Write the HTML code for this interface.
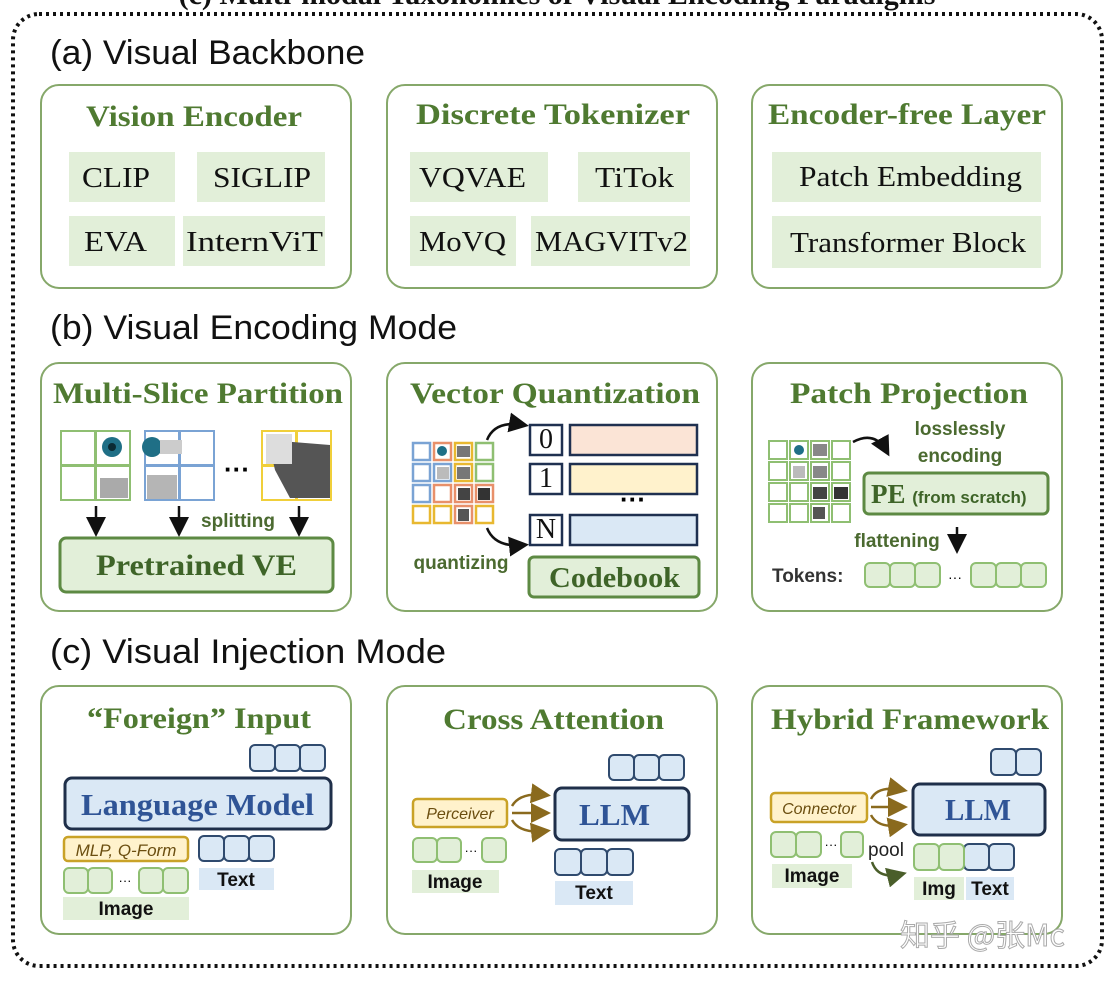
<!DOCTYPE html>
<html><head><meta charset="utf-8"><style>
html,body{margin:0;padding:0;background:#fff;}
svg{display:block;}
.h{font-family:"Liberation Sans",sans-serif;font-size:34px;fill:#111;}
.t{font-family:"Liberation Serif",serif;font-weight:bold;font-size:30px;fill:#4f7a31;}
.c{font-family:"Liberation Serif",serif;font-size:28px;fill:#111;}
.s{font-family:"Liberation Sans",sans-serif;font-size:19px;}
</style></head><body>
<svg width="1114" height="982" viewBox="0 0 1114 982" xmlns="http://www.w3.org/2000/svg">
<defs>
<marker id="ab" markerWidth="8" markerHeight="8" refX="6" refY="4" orient="auto"><path d="M0,0 L8,4 L0,8 z" fill="#111"/></marker>
<marker id="ao" markerWidth="8" markerHeight="8" refX="6" refY="4" orient="auto"><path d="M0,0 L8,4 L0,8 z" fill="#8a6a1e"/></marker>
<marker id="ag" markerWidth="8" markerHeight="8" refX="6" refY="4" orient="auto"><path d="M0,0 L8,4 L0,8 z" fill="#4a5e2a"/></marker>
</defs>
<text x="557" y="4" text-anchor="middle" font-family="Liberation Serif" font-weight="bold" font-size="30" fill="#111">(c) Multi-modal Taxonomies of Visual Encoding Paradigms</text>
<rect x="13" y="14" width="1089" height="952" rx="26" fill="none" stroke="#111" stroke-width="4" stroke-dasharray="3 4"/>

<text class="h" x="50" y="64" textLength="315" lengthAdjust="spacingAndGlyphs">(a) Visual Backbone</text>
<text class="h" x="50" y="339" textLength="407" lengthAdjust="spacingAndGlyphs">(b) Visual Encoding Mode</text>
<text class="h" x="50" y="663" textLength="396" lengthAdjust="spacingAndGlyphs">(c) Visual Injection Mode</text>

<g fill="none" stroke="#86a86a" stroke-width="2">
<rect x="41" y="85" width="310" height="203" rx="18"/><rect x="387" y="85" width="330" height="203" rx="18"/><rect x="752" y="85" width="310" height="203" rx="18"/>
<rect x="41" y="363" width="310" height="248" rx="18"/><rect x="387" y="363" width="330" height="248" rx="18"/><rect x="752" y="363" width="310" height="248" rx="18"/>
<rect x="41" y="686" width="310" height="248" rx="18"/><rect x="387" y="686" width="330" height="248" rx="18"/><rect x="752" y="686" width="310" height="248" rx="18"/>
</g>

<g class="t" lengthAdjust="spacingAndGlyphs">
<text x="86" y="126" textLength="216" lengthAdjust="spacingAndGlyphs">Vision Encoder</text>
<text x="416" y="124" textLength="274" lengthAdjust="spacingAndGlyphs">Discrete Tokenizer</text>
<text x="768" y="124" textLength="278" lengthAdjust="spacingAndGlyphs">Encoder-free Layer</text>
<text x="53" y="403" textLength="290" lengthAdjust="spacingAndGlyphs">Multi-Slice Partition</text>
<text x="410" y="403" textLength="290" lengthAdjust="spacingAndGlyphs">Vector Quantization</text>
<text x="790" y="403" textLength="238" lengthAdjust="spacingAndGlyphs">Patch Projection</text>
<text x="87" y="728" textLength="224" lengthAdjust="spacingAndGlyphs">“Foreign” Input</text>
<text x="443" y="729" textLength="221" lengthAdjust="spacingAndGlyphs">Cross Attention</text>
<text x="771" y="729" textLength="278" lengthAdjust="spacingAndGlyphs">Hybrid Framework</text>
</g>

<g fill="#e2efd9">
<rect x="69" y="152" width="106" height="50"/><rect x="197" y="152" width="128" height="50"/>
<rect x="69" y="216" width="106" height="50"/><rect x="183" y="216" width="142" height="50"/>
<rect x="410" y="152" width="138" height="50"/><rect x="578" y="152" width="112" height="50"/>
<rect x="410" y="216" width="106" height="50"/><rect x="531" y="216" width="159" height="50"/>
<rect x="772" y="152" width="269" height="50"/><rect x="772" y="216" width="269" height="52"/>
</g>
<g class="c">
<text x="82" y="187" textLength="68" lengthAdjust="spacingAndGlyphs">CLIP</text>
<text x="213" y="187" textLength="98" lengthAdjust="spacingAndGlyphs">SIGLIP</text>
<text x="84" y="251" textLength="63" lengthAdjust="spacingAndGlyphs">EVA</text>
<text x="186" y="251" textLength="137" lengthAdjust="spacingAndGlyphs">InternViT</text>
<text x="419" y="187" textLength="107" lengthAdjust="spacingAndGlyphs">VQVAE</text>
<text x="595" y="187" textLength="79" lengthAdjust="spacingAndGlyphs">TiTok</text>
<text x="419" y="251" textLength="87" lengthAdjust="spacingAndGlyphs">MoVQ</text>
<text x="535" y="251" textLength="153" lengthAdjust="spacingAndGlyphs">MAGVITv2</text>
<text x="799" y="186" textLength="223" lengthAdjust="spacingAndGlyphs">Patch Embedding</text>
<text x="790" y="252" textLength="236" lengthAdjust="spacingAndGlyphs">Transformer Block</text>
</g>

<!-- (b) panel 1 -->
<g fill="#fff" stroke-width="2">
<g stroke="#8fbf72"><rect x="61" y="431" width="34" height="34"/><rect x="96" y="431" width="34" height="34"/><rect x="61" y="466" width="34" height="34"/><rect x="96" y="466" width="34" height="34"/></g>
<g stroke="#7aa3d4"><rect x="145" y="431" width="34" height="34"/><rect x="180" y="431" width="34" height="34"/><rect x="145" y="466" width="34" height="34"/><rect x="180" y="466" width="34" height="34"/></g>
<g stroke="#f0cf3a"><rect x="262" y="431" width="34" height="34"/><rect x="297" y="431" width="34" height="34"/><rect x="262" y="466" width="34" height="34"/><rect x="297" y="466" width="34" height="34"/></g>
</g>
<circle cx="112" cy="447" r="10" fill="#1f6f86"/><circle cx="112" cy="447" r="4" fill="#0b2a33"/>
<circle cx="152" cy="447" r="10" fill="#1f6f86"/><rect x="160" y="440" width="22" height="14" fill="#ccc"/>
<rect x="100" y="478" width="28" height="20" fill="#aaa"/><rect x="147" y="475" width="30" height="24" fill="#b5b5b5"/>
<path d="M268 440 L330 445 L330 498 L290 498 L275 470 Z" fill="#555"/><rect x="266" y="434" width="26" height="30" fill="#ddd"/>
<text x="237" y="478" text-anchor="middle" font-size="26" font-weight="bold" font-family="Liberation Sans">···</text>
<g stroke="#111" stroke-width="2.5" marker-end="url(#ab)"><line x1="96" y1="506" x2="96" y2="532"/><line x1="179" y1="506" x2="179" y2="532"/><line x1="299" y1="506" x2="299" y2="532"/></g>
<text class="s" x="238" y="527" text-anchor="middle" fill="#4b6a30" font-weight="bold">splitting</text>
<rect x="60" y="538" width="273" height="54" rx="6" fill="#e2efd9" stroke="#5d8a43" stroke-width="3"/>
<text x="96" y="575" textLength="201" lengthAdjust="spacingAndGlyphs" font-family="Liberation Serif" font-weight="bold" font-size="30" fill="#3e6428">Pretrained VE</text>

<!-- (b) panel 2 -->
<g fill="#fff" stroke-width="2.5">
<rect x="413" y="443" width="17" height="17" stroke="#7aa3d4"/><rect x="434" y="443" width="17" height="17" stroke="#e8906a"/><rect x="455" y="443" width="17" height="17" stroke="#e8b830"/><rect x="476" y="443" width="17" height="17" stroke="#8fbf72"/>
<rect x="413" y="464" width="17" height="17" stroke="#7aa3d4"/><rect x="434" y="464" width="17" height="17" stroke="#7aa3d4"/><rect x="455" y="464" width="17" height="17" stroke="#e8b830"/><rect x="476" y="464" width="17" height="17" stroke="#8fbf72"/>
<rect x="413" y="485" width="17" height="17" stroke="#7aa3d4"/><rect x="434" y="485" width="17" height="17" stroke="#e8906a"/><rect x="455" y="485" width="17" height="17" stroke="#e8906a"/><rect x="476" y="485" width="17" height="17" stroke="#e8906a"/>
<rect x="413" y="506" width="17" height="17" stroke="#e8b830"/><rect x="434" y="506" width="17" height="17" stroke="#e8b830"/><rect x="455" y="506" width="17" height="17" stroke="#e8906a"/><rect x="476" y="506" width="17" height="17" stroke="#e8b830"/>
</g>
<g fill="#777"><circle cx="442" cy="451" r="5" fill="#1f6f86"/><rect x="457" y="446" width="13" height="11"/><rect x="437" y="467" width="12" height="12" fill="#bbb"/><rect x="457" y="467" width="13" height="12"/><rect x="458" y="488" width="12" height="12" fill="#444"/><rect x="478" y="488" width="12" height="12" fill="#333"/><rect x="458" y="509" width="11" height="12" fill="#555"/></g>
<path d="M487 440 Q495 420 524 425" fill="none" stroke="#111" stroke-width="2.5" marker-end="url(#ab)"/>
<path d="M487 528 Q495 548 524 545" fill="none" stroke="#111" stroke-width="2.5" marker-end="url(#ab)"/>
<g stroke="#1f3050" stroke-width="2.5">
<rect x="530" y="425" width="32" height="30" fill="#fff"/><rect x="570" y="425" width="127" height="30" fill="#fbe4d6"/>
<rect x="530" y="464" width="32" height="30" fill="#fff"/><rect x="570" y="464" width="127" height="30" fill="#fff2cc"/>
<rect x="530" y="515" width="32" height="30" fill="#fff"/><rect x="570" y="515" width="127" height="30" fill="#dae8f5"/>
</g>
<g class="c" text-anchor="middle" font-size="24"><text x="546" y="448">0</text><text x="546" y="487">1</text><text x="546" y="538">N</text></g>
<text x="633" y="508" text-anchor="middle" font-size="26" font-weight="bold" font-family="Liberation Sans">···</text>
<text class="s" x="461" y="569" text-anchor="middle" fill="#4b6a30" font-weight="bold">quantizing</text>
<rect x="529" y="557" width="170" height="40" rx="5" fill="#e2efd9" stroke="#5d8a43" stroke-width="3"/>
<text x="549" y="587" textLength="131" lengthAdjust="spacingAndGlyphs" font-family="Liberation Serif" font-weight="bold" font-size="28" fill="#3e6428">Codebook</text>

<!-- (b) panel 3 -->
<g fill="#fff" stroke="#8fbf72" stroke-width="2">
<rect x="769" y="441" width="18" height="18"/><rect x="790" y="441" width="18" height="18"/><rect x="811" y="441" width="18" height="18"/><rect x="832" y="441" width="18" height="18"/>
<rect x="769" y="462" width="18" height="18"/><rect x="790" y="462" width="18" height="18"/><rect x="811" y="462" width="18" height="18"/><rect x="832" y="462" width="18" height="18"/>
<rect x="769" y="483" width="18" height="18"/><rect x="790" y="483" width="18" height="18"/><rect x="811" y="483" width="18" height="18"/><rect x="832" y="483" width="18" height="18"/>
<rect x="769" y="504" width="18" height="18"/><rect x="790" y="504" width="18" height="18"/><rect x="811" y="504" width="18" height="18"/><rect x="832" y="504" width="18" height="18"/>
</g>
<g fill="#888"><circle cx="799" cy="450" r="5" fill="#1f6f86"/><rect x="813" y="444" width="14" height="12"/><rect x="793" y="466" width="12" height="12" fill="#bbb"/><rect x="813" y="466" width="14" height="12"/><rect x="813" y="487" width="14" height="12" fill="#444"/><rect x="834" y="487" width="14" height="12" fill="#333"/><rect x="813" y="507" width="12" height="12" fill="#555"/></g>
<path d="M853 442 Q875 430 887 452" fill="none" stroke="#111" stroke-width="2.5" marker-end="url(#ab)"/>
<g class="s" fill="#4b6a30" font-weight="bold" text-anchor="middle"><text x="960" y="435">losslessly</text><text x="960" y="462">encoding</text></g>
<rect x="864" y="473" width="184" height="41" rx="5" fill="#e2efd9" stroke="#5d8a43" stroke-width="3"/>
<text x="871" y="503" font-family="Liberation Serif" font-weight="bold" font-size="27" fill="#3e6428">PE <tspan font-family="Liberation Sans" font-size="17" font-weight="bold">(from scratch)</tspan></text>
<text class="s" x="897" y="547" text-anchor="middle" fill="#4b6a30" font-weight="bold">flattening</text>
<line x1="957" y1="527" x2="957" y2="549" stroke="#111" stroke-width="2.5" marker-end="url(#ab)"/>
<text class="s" x="772" y="582" fill="#333" font-weight="bold" font-size="17">Tokens:</text>
<g fill="#e2efd9" stroke="#8fbf72" stroke-width="2">
<rect x="865" y="563" width="25" height="24" rx="5"/><rect x="890" y="563" width="25" height="24" rx="5"/><rect x="915" y="563" width="25" height="24" rx="5"/>
<rect x="971" y="563" width="25" height="24" rx="5"/><rect x="996" y="563" width="25" height="24" rx="5"/><rect x="1021" y="563" width="25" height="24" rx="5"/>
</g>
<text x="955" y="582" text-anchor="middle" font-size="14" font-family="Liberation Sans">···</text>

<!-- (c) panel 1 -->
<g fill="#dae8f5" stroke="#2f4a6e" stroke-width="2">
<rect x="250" y="745" width="25" height="26" rx="5"/><rect x="275" y="745" width="25" height="26" rx="5"/><rect x="300" y="745" width="25" height="26" rx="5"/>
<rect x="199" y="836" width="25" height="25" rx="5"/><rect x="224" y="836" width="25" height="25" rx="5"/><rect x="249" y="836" width="25" height="25" rx="5"/>
</g>
<rect x="65" y="778" width="266" height="51" rx="7" fill="#dae8f5" stroke="#1f2f4a" stroke-width="3"/>
<text x="81" y="815" textLength="233" lengthAdjust="spacingAndGlyphs" font-family="Liberation Serif" font-weight="bold" font-size="31" fill="#2f5496">Language Model</text>
<rect x="64" y="837" width="124" height="24" rx="4" fill="#fff2cc" stroke="#c9a227" stroke-width="2.5"/>
<text x="126" y="856" text-anchor="middle" font-family="Liberation Sans" font-style="italic" font-size="17" fill="#6b4e10">MLP, Q-Form</text>
<rect x="199" y="868" width="75" height="22" fill="#dae8f5"/><text class="s" x="236" y="886" text-anchor="middle" font-weight="bold" fill="#111" font-size="18">Text</text>
<g fill="#e2efd9" stroke="#8fbf72" stroke-width="2">
<rect x="64" y="868" width="24" height="25" rx="5"/><rect x="88" y="868" width="24" height="25" rx="5"/><rect x="139" y="868" width="24" height="25" rx="5"/><rect x="163" y="868" width="25" height="25" rx="5"/>
</g>
<text x="125" y="885" text-anchor="middle" font-size="13" font-family="Liberation Sans">···</text>
<rect x="63" y="897" width="126" height="23" fill="#e2efd9"/><text class="s" x="126" y="915" text-anchor="middle" font-weight="bold" fill="#111" font-size="18">Image</text>

<!-- (c) panel 2 -->
<g fill="#dae8f5" stroke="#2f4a6e" stroke-width="2">
<rect x="609" y="755" width="25" height="25" rx="5"/><rect x="634" y="755" width="25" height="25" rx="5"/><rect x="659" y="755" width="25" height="25" rx="5"/>
<rect x="555" y="849" width="26" height="26" rx="5"/><rect x="581" y="849" width="26" height="26" rx="5"/><rect x="607" y="849" width="26" height="26" rx="5"/>
</g>
<rect x="555" y="788" width="134" height="52" rx="7" fill="#dae8f5" stroke="#1f2f4a" stroke-width="3"/>
<text x="579" y="825" textLength="71" lengthAdjust="spacingAndGlyphs" font-family="Liberation Serif" font-weight="bold" font-size="31" fill="#2f5496">LLM</text>
<rect x="413" y="799" width="94" height="28" rx="4" fill="#fff2cc" stroke="#c9a227" stroke-width="2.5"/>
<text x="460" y="819" text-anchor="middle" font-family="Liberation Sans" font-style="italic" font-size="16" fill="#6b4e10">Perceiver</text>
<g fill="none" stroke="#8a6a1e" stroke-width="2.5" marker-end="url(#ao)">
<path d="M512 806 Q520 792 546 795"/><line x1="512" y1="813" x2="546" y2="813"/><path d="M512 820 Q520 834 546 831"/>
</g>
<g fill="#e2efd9" stroke="#8fbf72" stroke-width="2">
<rect x="413" y="838" width="24" height="24" rx="5"/><rect x="437" y="838" width="24" height="24" rx="5"/><rect x="482" y="838" width="24" height="24" rx="5"/>
</g>
<text x="471" y="855" text-anchor="middle" font-size="13" font-family="Liberation Sans">···</text>
<rect x="412" y="870" width="87" height="23" fill="#e2efd9"/><text class="s" x="455" y="888" text-anchor="middle" font-weight="bold" fill="#111" font-size="18">Image</text>
<rect x="555" y="881" width="78" height="24" fill="#dae8f5"/><text class="s" x="594" y="899" text-anchor="middle" font-weight="bold" fill="#111" font-size="18">Text</text>

<!-- (c) panel 3 -->
<g fill="#dae8f5" stroke="#2f4a6e" stroke-width="2">
<rect x="991" y="749" width="25" height="26" rx="5"/><rect x="1016" y="749" width="25" height="26" rx="5"/>
<rect x="964" y="844" width="25" height="26" rx="5"/><rect x="989" y="844" width="25" height="26" rx="5"/>
</g>
<rect x="913" y="784" width="132" height="51" rx="7" fill="#dae8f5" stroke="#1f2f4a" stroke-width="3"/>
<text x="945" y="820" textLength="66" lengthAdjust="spacingAndGlyphs" font-family="Liberation Serif" font-weight="bold" font-size="31" fill="#2f5496">LLM</text>
<rect x="771" y="793" width="96" height="29" rx="4" fill="#fff2cc" stroke="#c9a227" stroke-width="2.5"/>
<text x="819" y="814" text-anchor="middle" font-family="Liberation Sans" font-style="italic" font-size="16" fill="#6b4e10">Connector</text>
<g fill="none" stroke="#8a6a1e" stroke-width="2.5" marker-end="url(#ao)">
<path d="M871 799 Q878 785 903 790"/><line x1="871" y1="807" x2="903" y2="807"/><path d="M871 815 Q878 829 903 825"/>
</g>
<g fill="#e2efd9" stroke="#8fbf72" stroke-width="2">
<rect x="771" y="832" width="25" height="25" rx="5"/><rect x="796" y="832" width="25" height="25" rx="5"/><rect x="841" y="832" width="22" height="25" rx="5"/>
<rect x="914" y="844" width="25" height="26" rx="5"/><rect x="939" y="844" width="25" height="26" rx="5"/>
</g>
<text x="831" y="849" text-anchor="middle" font-size="13" font-family="Liberation Sans">···</text>
<text class="s" x="868" y="856" fill="#222" font-size="20">pool</text>
<path d="M872 862 Q878 880 902 874" fill="none" stroke="#4a5e2a" stroke-width="2.5" marker-end="url(#ag)"/>
<rect x="772" y="864" width="80" height="24" fill="#e2efd9"/><text class="s" x="812" y="882" text-anchor="middle" font-weight="bold" fill="#111" font-size="18">Image</text>
<rect x="914" y="877" width="50" height="23" fill="#e2efd9"/><text class="s" x="939" y="895" text-anchor="middle" font-weight="bold" fill="#111" font-size="18">Img</text>
<rect x="966" y="877" width="48" height="23" fill="#dae8f5"/><text class="s" x="990" y="895" text-anchor="middle" font-weight="bold" fill="#111" font-size="18">Text</text>

<text x="900" y="946" font-family="Noto Sans CJK SC, sans-serif" font-size="30" fill="#fff" stroke="#aaa" stroke-width="1">知乎 @张Mc</text>
</svg>
</body></html>
